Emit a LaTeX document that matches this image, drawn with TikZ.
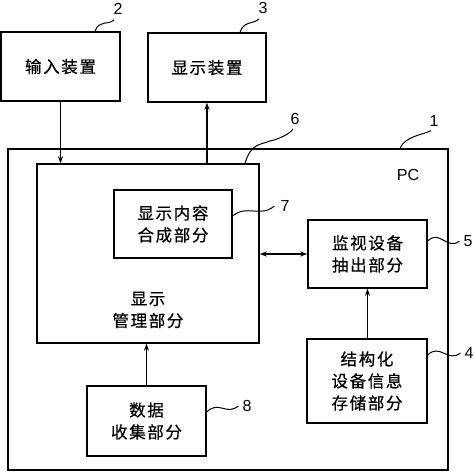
\documentclass[tikz,border=0pt]{standalone}
\usepackage{fontspec}
\setmainfont{Liberation Sans}
\newfontfamily\cjk[LetterSpace=10,FakeBold=0.6]{Noto Sans CJK SC}
\usetikzlibrary{arrows.meta}
\begin{document}
\begin{tikzpicture}[x=1pt,y=-1pt,
  box/.style={draw,line width=1.4pt,inner sep=0pt,align=center,
    font=\cjk\fontsize{16.5}{22}\selectfont},
  num/.style={inner sep=0pt,font=\fontsize{16}{18}\selectfont},
  lead/.style={line width=1pt},
  arr/.style={line width=1.1pt,-{Stealth[length=7pt,width=5pt]}},
  darr/.style={line width=1.1pt,{Stealth[length=7pt,width=5pt]}-{Stealth[length=7pt,width=5pt]}}]
\useasboundingbox (0,0) rectangle (474,473);
% boxes
\node[box,minimum width=119pt,minimum height=69pt] (b2) at (60.5,66.5) {输入装置};
\node[box,minimum width=118pt,minimum height=69pt] (b3) at (207,67.5) {显示装置};
\node[box,minimum width=440pt,minimum height=321pt] (pc) at (228,309.5) {};
\node[box,minimum width=222pt,minimum height=179pt] (b6) at (148,253.5) {};
\node[box,minimum width=118pt,minimum height=68pt] (b7) at (173,224) {显示内容\\合成部分};
\node[box,minimum width=119pt,minimum height=68pt] (b5) at (367.5,254) {监视设备\\抽出部分};
\node[box,minimum width=120pt,minimum height=84pt] (b4) at (367,381) {结构化\\设备信息\\存储部分};
\node[box,minimum width=119pt,minimum height=70pt] (b8) at (146.5,421) {数据\\收集部分};
\node[box,draw=none] (t6) at (148,310) {显示\\管理部分};
\node[num] (pct) at (408,175) {PC};
% labels
\node[num] (l2) at (118,9) {2};
\node[num] (l3) at (263,8) {3};
\node[num] (l6) at (295,119) {6};
\node[num] (l1) at (434,121) {1};
\node[num] (l7) at (285,206) {7};
\node[num] (l5) at (468,241) {5};
\node[num] (l4) at (469,353) {4};
\node[num] (l8) at (247,406) {8};
% leaders
\draw[lead] ([xshift=34.5pt]b2.north) .. controls +(4,-12) and +(-6,6) .. ([xshift=-4pt,yshift=-5pt]l2.south);
\draw[lead] ([xshift=33pt]b3.north) .. controls +(4,-12) and +(-6,6) .. ([xshift=-4pt,yshift=-5pt]l3.south);
\draw[lead] ([xshift=97pt]b6.north) .. controls +(6,-20) and +(-10,4) .. (270,141) .. controls +(10,-2) and +(-2,4) .. ([xshift=-2pt,yshift=-4pt]l6.south);
\draw[lead] ([xshift=172pt]pc.north) .. controls +(5,-12) and +(-8,4) .. ([xshift=-3pt,yshift=-4pt]l1.south);
\draw[lead] ([yshift=8pt]b7.east) .. controls +(14,-12) and +(-14,12) .. ([xshift=-6pt]l7.west);
\draw[lead] ([yshift=13pt]b5.east) .. controls +(12,-12) and +(-12,10) .. ([xshift=-4pt]l5.west);
\draw[lead] ([yshift=26pt]b4.east) .. controls +(12,-12) and +(-12,10) .. ([xshift=-4pt]l4.west);
\draw[lead] ([yshift=9pt]b8.east) .. controls +(12,-12) and +(-12,10) .. ([xshift=-4pt]l8.west);
% arrows
\draw[arr] (b2.south) -- (b2.south |- b6.north);
\draw[arr] (b6.north -| b3.south) -- (b3.south);
\draw[darr] (b6.east |- b5.west) -- (b5.west);
\draw[arr] (b4.north -| b5.south) -- (b5.south);
\draw[arr] (b8.north) -- (b8.north |- b6.south);
\end{tikzpicture}
\end{document}
